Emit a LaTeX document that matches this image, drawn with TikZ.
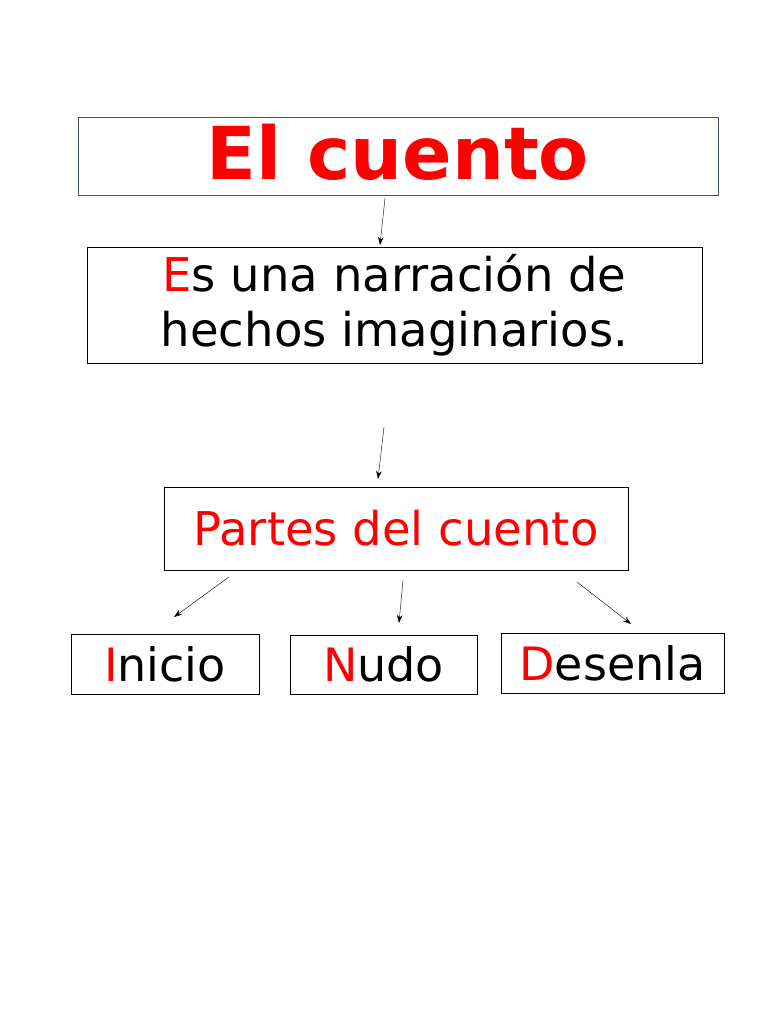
\documentclass[tikz,border=0pt]{standalone}
\usepackage{fontspec}
\setmainfont{DejaVu Sans}
\usetikzlibrary{arrows.meta}
\definecolor{slate}{HTML}{44546A}
\begin{document}
\begin{tikzpicture}[x=1pt, y=-1pt, >={Stealth[length=8pt,width=5.5pt]}]
\useasboundingbox (0,0) rectangle (768,1024);
\node[shape=rectangle, draw=slate, thick, minimum width=640, minimum height=78, inner sep=0pt, text depth=8pt, text=red, font=\fontsize{73}{75}\selectfont\bfseries] (titulo) at (398,156) {El cuento};
\node[shape=rectangle, draw=black, thin, minimum width=615, minimum height=116, inner sep=0pt, align=center, font=\fontsize{46.5}{55}\selectfont] (def) at (394.5,305) {\textcolor{red}{E}s una narración de\\hechos imaginarios.};
\node[shape=rectangle, draw=black, thin, minimum width=464, minimum height=83, inner sep=0pt, text=red, font=\fontsize{46.5}{55}\selectfont] (partes) at (396,528.5) {Partes del cuento};
\node[shape=rectangle, draw=black, thick, minimum width=188, minimum height=60, inner sep=0pt, font=\fontsize{46}{55}\selectfont] (inicio) at (165,664) {\textcolor{red}{I}nicio};
\node[shape=rectangle, draw=black, thin, minimum width=187, minimum height=59, inner sep=0pt, font=\fontsize{46}{55}\selectfont] (nudo) at (383.5,664.5) {\textcolor{red}{N}udo};
\node[shape=rectangle, draw=black, thin, minimum width=223, minimum height=60, inner sep=0pt, font=\fontsize{46}{55}\selectfont] (desenla) at (612.5,663) {\textcolor{red}{D}esenla};
\coordinate (t1) at (385,198);
\coordinate (h1) at (380,245);
\coordinate (t2) at (384,427);
\coordinate (h2) at (378,479);
\coordinate (t3) at (229,577);
\coordinate (h3) at (174,617);
\coordinate (t4) at (403,580);
\coordinate (h4) at (399,623);
\coordinate (t5) at (577,582);
\coordinate (h5) at (631,624);
\draw [->, thin, draw=black] (t1) -- (h1);
\draw [->, thin, draw=black] (t2) -- (h2);
\draw [->, thin, draw=black] (t3) -- (h3);
\draw [->, thin, draw=black] (t4) -- (h4);
\draw [->, thin, draw=black] (t5) -- (h5);
\end{tikzpicture}
\end{document}
